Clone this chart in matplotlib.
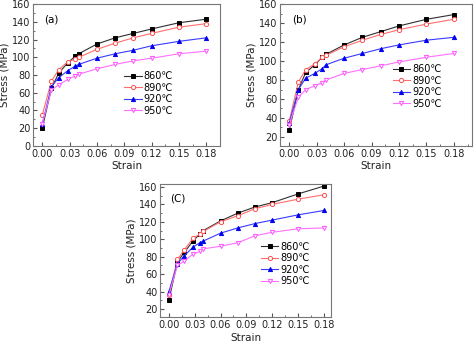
import matplotlib.pyplot as plt
from matplotlib.ticker import MultipleLocator

strain = [0.0, 0.01, 0.018, 0.028, 0.036, 0.04, 0.06, 0.08, 0.10, 0.12, 0.15, 0.18]
temps = ['860℃', '890℃', '920℃', '950℃']

# panel (a)
a_860 = [20, 65, 82, 94, 101, 104, 115, 122, 127, 132, 139, 143]
a_890 = [35, 73, 86, 95, 98, 100, 109, 116, 122, 127, 134, 138]
a_920 = [25, 67, 77, 85, 90, 92, 99, 104, 108, 113, 118, 122]
a_950 = [25, 63, 69, 75, 79, 81, 87, 92, 96, 99, 104, 107]

# panel (b)
b_860 = [27, 70, 88, 96, 104, 107, 117, 125, 131, 137, 144, 149]
b_890 = [37, 78, 91, 97, 104, 106, 115, 122, 128, 133, 139, 144]
b_920 = [35, 70, 82, 87, 92, 96, 103, 108, 113, 117, 122, 125]
b_950 = [33, 62, 70, 74, 77, 80, 87, 91, 95, 99, 104, 108]

# panel (c)
c_860 = [30, 74, 85, 98, 106, 110, 121, 130, 137, 142, 152, 161]
c_890 = [36, 77, 88, 101, 106, 109, 120, 127, 135, 140, 146, 151]
c_920 = [40, 72, 81, 91, 96, 98, 107, 113, 118, 122, 128, 133]
c_950 = [36, 70, 75, 83, 86, 89, 92, 96, 104, 108, 112, 113]

styles = [
    dict(color='#303030', marker='s', mfc='black', mec='black'),
    dict(color='#ff6e6e', marker='o', mfc='white', mec='#ff5050'),
    dict(color='#3a3aff', marker='^', mfc='#0000ee', mec='#0000ee'),
    dict(color='#ff70ff', marker='v', mfc='white', mec='#ff50ff'),
]

fig = plt.figure(figsize=(4.74, 3.45), dpi=100)


def panel(rect, series, label, ylim, yticks, xright, legpos):
    ax = fig.add_axes(rect)
    for ys, t, st in zip(series, temps, styles):
        ax.plot(strain, ys, lw=0.8, ms=3, mew=0.7, label=t, **st)
    ax.set_xlim(-0.01, xright)
    ax.set_ylim(*ylim)
    ax.set_xticks([0, 0.03, 0.06, 0.09, 0.12, 0.15, 0.18])
    ax.set_yticks(yticks)
    ax.xaxis.set_minor_locator(MultipleLocator(0.015))
    ax.yaxis.set_minor_locator(MultipleLocator(10))
    ax.tick_params(which='both', direction='in', top=False, right=False,
                   labelsize=7, pad=2, color='#555555', labelcolor='#222222')
    ax.tick_params(which='major', length=3)
    ax.tick_params(which='minor', length=1.5)
    for s in ax.spines.values():
        s.set_color('#777777')
        s.set_linewidth(0.8)
    ax.set_xlabel('Strain', fontsize=7.5, labelpad=2, color='#222222')
    ax.set_ylabel('Stress (MPa)', fontsize=7.5, labelpad=2, color='#222222')
    ax.text(0.06, 0.93, label, transform=ax.transAxes, fontsize=7.5, va='top')
    ax.legend(loc='center left', bbox_to_anchor=legpos, frameon=False,
              fontsize=7, handlelength=1.8, handletextpad=0.2,
              labelspacing=0.15, borderpad=0.2)
    return ax


panel([0.070, 0.577, 0.394, 0.411], [a_860, a_890, a_920, a_950], '(a)',
      (0, 160), range(0, 161, 20), 0.195, (0.45, 0.37))
panel([0.591, 0.577, 0.405, 0.411], [b_860, b_890, b_920, b_950], '(b)',
      (10.5, 160), range(20, 161, 20), 0.20, (0.55, 0.42))
panel([0.338, 0.081, 0.360, 0.386], [c_860, c_890, c_920, c_950], '(C)',
      (10.8, 163.5), range(20, 161, 20), 0.188, (0.55, 0.40))

fig.savefig('out.png', dpi=100)
